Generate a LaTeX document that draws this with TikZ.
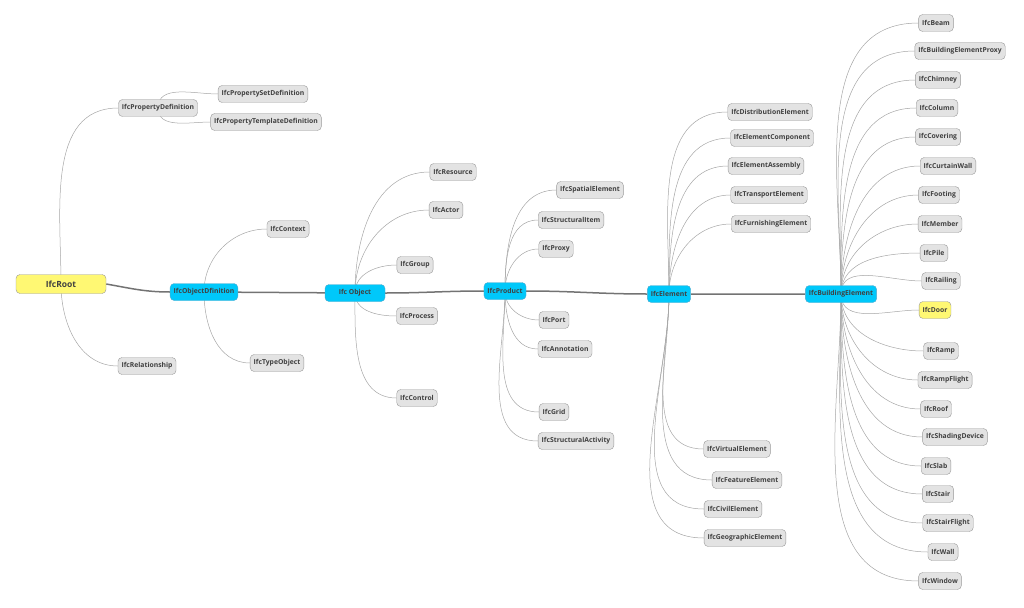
\documentclass[tikz,border=0pt]{standalone}
\usepackage{fontspec}
\setmainfont{Open Sans}
\usetikzlibrary{backgrounds}
\definecolor{corecyan}{RGB}{0,200,250}

\tikzset{
  leaf/.style={draw=gray!80, fill=gray!22, rounded corners=4pt, minimum height=17pt,
    inner xsep=3.5pt, font=\fontsize{6.8}{8}\selectfont\bfseries, text=black!75},
  core/.style={leaf, fill=corecyan, draw=cyan!60!gray},
  hl/.style={leaf, fill=yellow!55},
  link/.style={gray!70, line width=0.5pt},
  trunk/.style={gray!90!black, line width=1.5pt}
}

\begin{document}
\begin{tikzpicture}[x=1pt,y=-1pt]
    \useasboundingbox (0,0) rectangle (1024,607);

    % main chain
    \node[hl, minimum width=90pt, minimum height=19pt, font=\fontsize{8.5}{10}\selectfont\bfseries] (Root) at (61,284) {IfcRoot};
    \node[core] (ObjDef) at (204,292) {IfcObjectDfinition};
    \node[core, minimum width=60pt] (Object) at (355,293) {Ifc Object};
    \node[core] (Product) at (505,291) {IfcProduct};
    \node[core] (Element) at (669,294) {IfcElement};
    \node[core] (BldElem) at (841,294) {IfcBuildingElement};

    % leaves
    \foreach \n/\x/\y in {PropertyDefinition/158/108, PropertySetDefinition/263/94,
        PropertyTemplateDefinition/266/122, Relationship/147/366,
        Context/288/229, TypeObject/277/363,
        Resource/453/172, Actor/446/210, Group/415/265, Process/417/316, Control/417/398,
        SpatialElement/590/190, StructuralItem/571/220, Proxy/556/249, Port/554/320,
        Annotation/565/349, Grid/554/412, StructuralActivity/576/441,
        DistributionElement/770/112, ElementComponent/772/138, ElementAssembly/766/166,
        TransportElement/769/195, FurnishingElement/771/224, VirtualElement/737/449,
        FeatureElement/747/480, CivilElement/733/509, GeographicElement/745/538,
        Beam/936/23, BuildingElementProxy/960/51, Chimney/938/80, Column/937/108,
        Covering/938/137, CurtainWall/948/166, Footing/939/195, Member/940/224,
        Pile/934/253, Railing/941/281, Ramp/941/351, RampFlight/945/380,
        Roof/936/409, ShadingDevice/955/437, Slab/936/466, Stair/938/494,
        StairFlight/948/523, Wall/943/552, Window/940/581}
        \node[leaf] (\n) at (\x,\y) {Ifc\n};
    \node[hl] (Door) at (935,310) {IfcDoor};

    \begin{scope}[on background layer]
    \draw[trunk] (Root.east) to[out=-10,in=180] (ObjDef.west);
    \draw[trunk] (ObjDef) -- (Object) to[out=0,in=180] (Product) to[out=0,in=180] (Element) -- (BldElem);

    \foreach \p/\c/\d in {Root/PropertyDefinition/90, Root/Relationship/-90,
        PropertyDefinition/PropertySetDefinition/90, PropertyDefinition/PropertyTemplateDefinition/-90,
        ObjDef/Context/90, ObjDef/TypeObject/-90,
        Object/Resource/90, Object/Actor/90, Object/Group/90, Object/Process/-90, Object/Control/-90,
        Product/SpatialElement/90, Product/StructuralItem/90, Product/Proxy/90, Product/Port/-90,
        Product/Annotation/-90, Product/Grid/-90, Product/StructuralActivity/-90,
        Element/DistributionElement/90, Element/ElementComponent/90, Element/ElementAssembly/90,
        Element/TransportElement/90, Element/FurnishingElement/90, Element/VirtualElement/-90,
        Element/FeatureElement/-90, Element/CivilElement/-90, Element/GeographicElement/-90,
        BldElem/Beam/90, BldElem/BuildingElementProxy/90, BldElem/Chimney/90, BldElem/Column/90,
        BldElem/Covering/90, BldElem/CurtainWall/90, BldElem/Footing/90, BldElem/Member/90,
        BldElem/Pile/90, BldElem/Railing/90, BldElem/Door/-90, BldElem/Ramp/-90,
        BldElem/RampFlight/-90, BldElem/Roof/-90, BldElem/ShadingDevice/-90, BldElem/Slab/-90,
        BldElem/Stair/-90, BldElem/StairFlight/-90, BldElem/Wall/-90, BldElem/Window/-90}
        \draw[link] (\p.center) to[out=\d,in=180] (\c.west);
    \end{scope}
\end{tikzpicture}
\end{document}
